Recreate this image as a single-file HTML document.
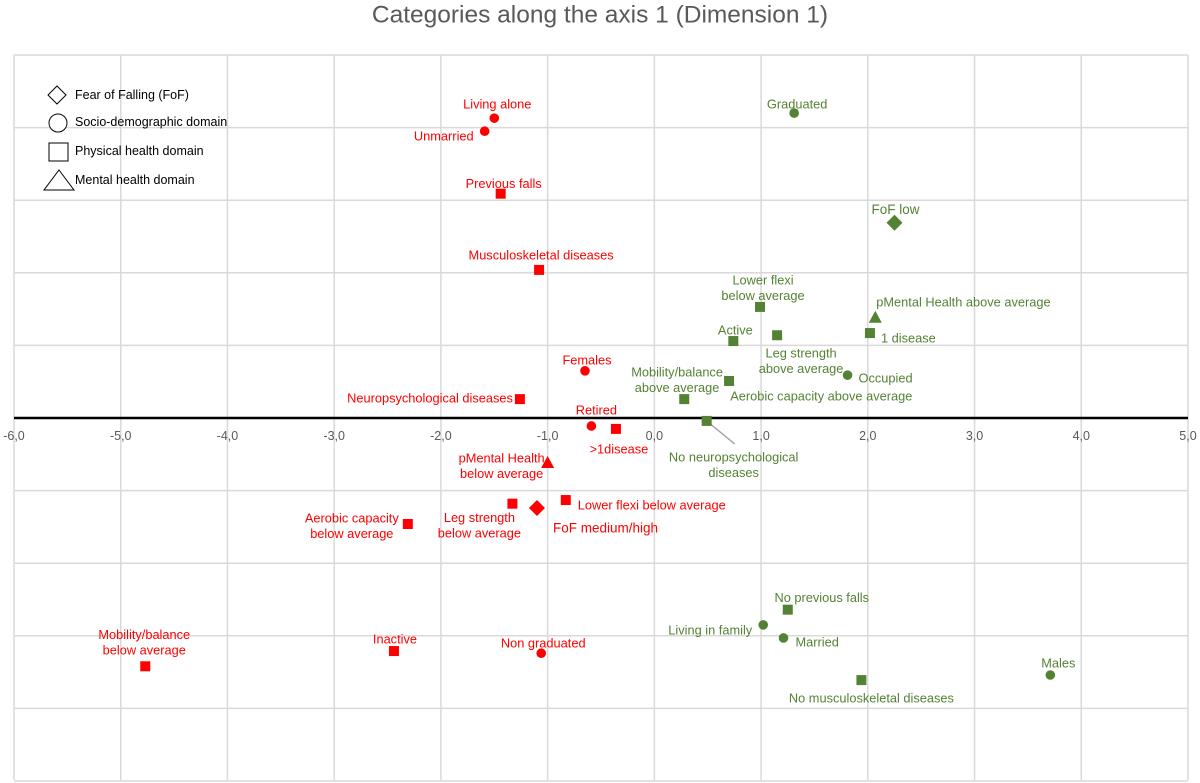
<!DOCTYPE html>
<html><head><meta charset="utf-8">
<style>
body{margin:0;background:#fff;}
svg{display:block;font-family:"Liberation Sans",sans-serif;}
</style></head>
<body>
<svg id="chart" width="1200" height="783">
<text x="600" y="15" text-anchor="middle" dominant-baseline="central" font-size="24.5" fill="#595959">Categories along the axis 1 (Dimension 1)</text>
<g id="grid"></g>
<g id="axis"></g>
<g id="legend">
  <g><polygon points="57,86 66,95 57,104 48,95" fill="#fff" stroke="#000" stroke-width="1"/><text x="75" y="95" font-size="12.5" dominant-baseline="central">Fear of Falling (FoF)</text></g>
  <g><circle cx="58" cy="123" r="9" fill="#fff" stroke="#000"/><text x="75" y="122" font-size="12.5" dominant-baseline="central">Socio-demographic domain</text></g>
  <rect x="49" y="143" width="19" height="18" fill="#fff" stroke="#000"/><text x="75" y="151" font-size="12.5" dominant-baseline="central">Physical health domain</text>
  <polygon points="59,170 74,190 44,190" fill="#fff" stroke="#000"/><text x="75" y="180" font-size="12.5" dominant-baseline="central">Mental health domain</text>
</g>
<g id="marks"></g>
</svg>
<script>
const xTicks=[-6,-5,-4,-3,-2,-1,0,1,2,3,4,5];
const yGrid=[5,4,3,2,1,-1,-2,-3,-4,-5];
const names=["Living alone","Unmarried","Previous falls","Musculoskeletal diseases","Females","Neuropsychological diseases","Retired",">1disease","pMental Health|below average","Lower flexi below average","Leg strength|below average","FoF medium/high","Aerobic capacity|below average","Mobility/balance|below average","Inactive","Non graduated",
"Graduated","FoF low","Lower flexi|below average","pMental Health above average","Leg strength|above average","1 disease","Active","Occupied","Mobility/balance|above average","Aerobic capacity above average","No neuropsychological|diseases","No previous falls","Living in family","Married","Males","No musculoskeletal diseases"];
const xVals=[-1.50,-1.59,-1.44,-1.08,-0.65,-1.26,-0.59,-0.36,-1.00,-0.83,-1.33,-1.10,-2.31,-4.77,-2.44,-1.06,
1.31,2.25,0.99,2.07,1.15,2.02,0.74,1.81,0.70,0.28,0.49,1.25,1.02,1.21,3.71,1.94];
const yVals=[4.13,3.95,3.09,2.04,0.65,0.26,-0.11,-0.15,-0.62,-1.13,-1.18,-1.24,-1.46,-3.42,-3.21,-3.24,
4.20,2.69,1.53,1.38,1.14,1.17,1.06,0.59,0.51,0.26,-0.04,-2.64,-2.85,-3.03,-3.54,-3.61];
const shapes=["c","c","s","s","c","s","c","s","t","s","s","d","s","s","s","c",
"c","d","s","t","s","s","s","c","s","s","s","s","c","c","c","s"];
const groups=["r","r","r","r","r","r","r","r","r","r","r","r","r","r","r","r",
"g","g","g","g","g","g","g","g","g","g","g","g","g","g","g","g"];
// label offsets (styling): dx, dy, anchor
const lab=[[3,-14,"middle"],[-11,5,"end"],[3,-10,"middle"],[2,-15,"middle"],[2,-11,"middle"],[-7,-1,"end"],[5,-16,"middle"],[3,20,"middle"],[-46,-5,"middle"],[12,5,"start"],[-33,14,"middle"],[16,20,"start"],[-56,-6,"middle"],[-1,-32,"middle"],[1,-12,"middle"],[2,-10,"middle"],
[3,-9,"middle"],[1,-13,"middle"],[3,-27,"middle"],[1,-16,"start"],[24,18,"middle"],[11,5,"start"],[2,-11,"middle"],[11,3,"start"],[-52,-9,"middle"],[46,-3,"start"],[27,36,"middle"],[34,-12,"middle"],[-11,5,"end"],[12,4,"start"],[8,-12,"middle"],[10,18,"middle"]];
const X0=14,X1=1188,Y0=55,Y1=780;
const sx=v=>X0+(v+6)/11*(X1-X0);
const sy=v=>418-v*(418-Y0)/5;
const NS="http://www.w3.org/2000/svg";
function mk(t,a,p){const e=document.createElementNS(NS,t);for(const k in a)e.setAttribute(k,a[k]);p.appendChild(e);return e;}
const grid=document.getElementById('grid'),axis=document.getElementById('axis'),marks=document.getElementById('marks');
xTicks.forEach(t=>{const l=mk('line',{x1:sx(t),x2:sx(t),y1:Y0,y2:Y1,stroke:'#d9d9d9','stroke-width':1.5},grid);


const tx=mk('text',{x:sx(t),y:436,'text-anchor':'middle','dominant-baseline':'central','font-size':12.5,fill:'#595959'},axis);
tx.textContent=t.toFixed(1).replace('.',',');

});
yGrid.forEach(t=>{const l=mk('line',{x1:X0,x2:X1,y1:sy(t),y2:sy(t),stroke:'#d9d9d9','stroke-width':1.5},grid);

});
const al=mk('line',{x1:X0,x2:X1,y1:sy(0),y2:sy(0),stroke:'#000','stroke-width':2.5},axis);


names.forEach((n,i)=>{
 const col=groups[i]=="r"?"#ff0000":"#548235";
 const x=sx(xVals[i]),y=sy(yVals[i]);
 let m;
 if(i==26){const ld=mk('line',{x1:x,y1:y,x2:x+28,y2:y+23,stroke:'#a6a6a6','stroke-width':1.5},marks);
 
 }
 if(shapes[i]=="c")m=mk('circle',{cx:x,cy:y,r:4.8,fill:col},marks);
 else if(shapes[i]=="s")m=mk('rect',{x:x-5,y:y-5,width:10,height:10,fill:col},marks);
 else if(shapes[i]=="t")m=mk('polygon',{points:`${x},${y-7} ${x+6.5},${y+5} ${x-6.5},${y+5}`,fill:col},marks);
 else m=mk('polygon',{points:`${x},${y-8} ${x+8},${y} ${x},${y+8} ${x-8},${y}`,fill:col},marks);
 
 
 const o=lab[i],big=shapes[i]=="d";
 const lines=n.split('|');
 lines.forEach((s,j)=>{const t=mk('text',{x:x+o[0],y:y+o[1]+j*15.5,'text-anchor':o[2],'dominant-baseline':'central','font-size':big?13.5:12.8,fill:col},marks);
 t.textContent=s;
 
 });
});
</script>
</body></html>
